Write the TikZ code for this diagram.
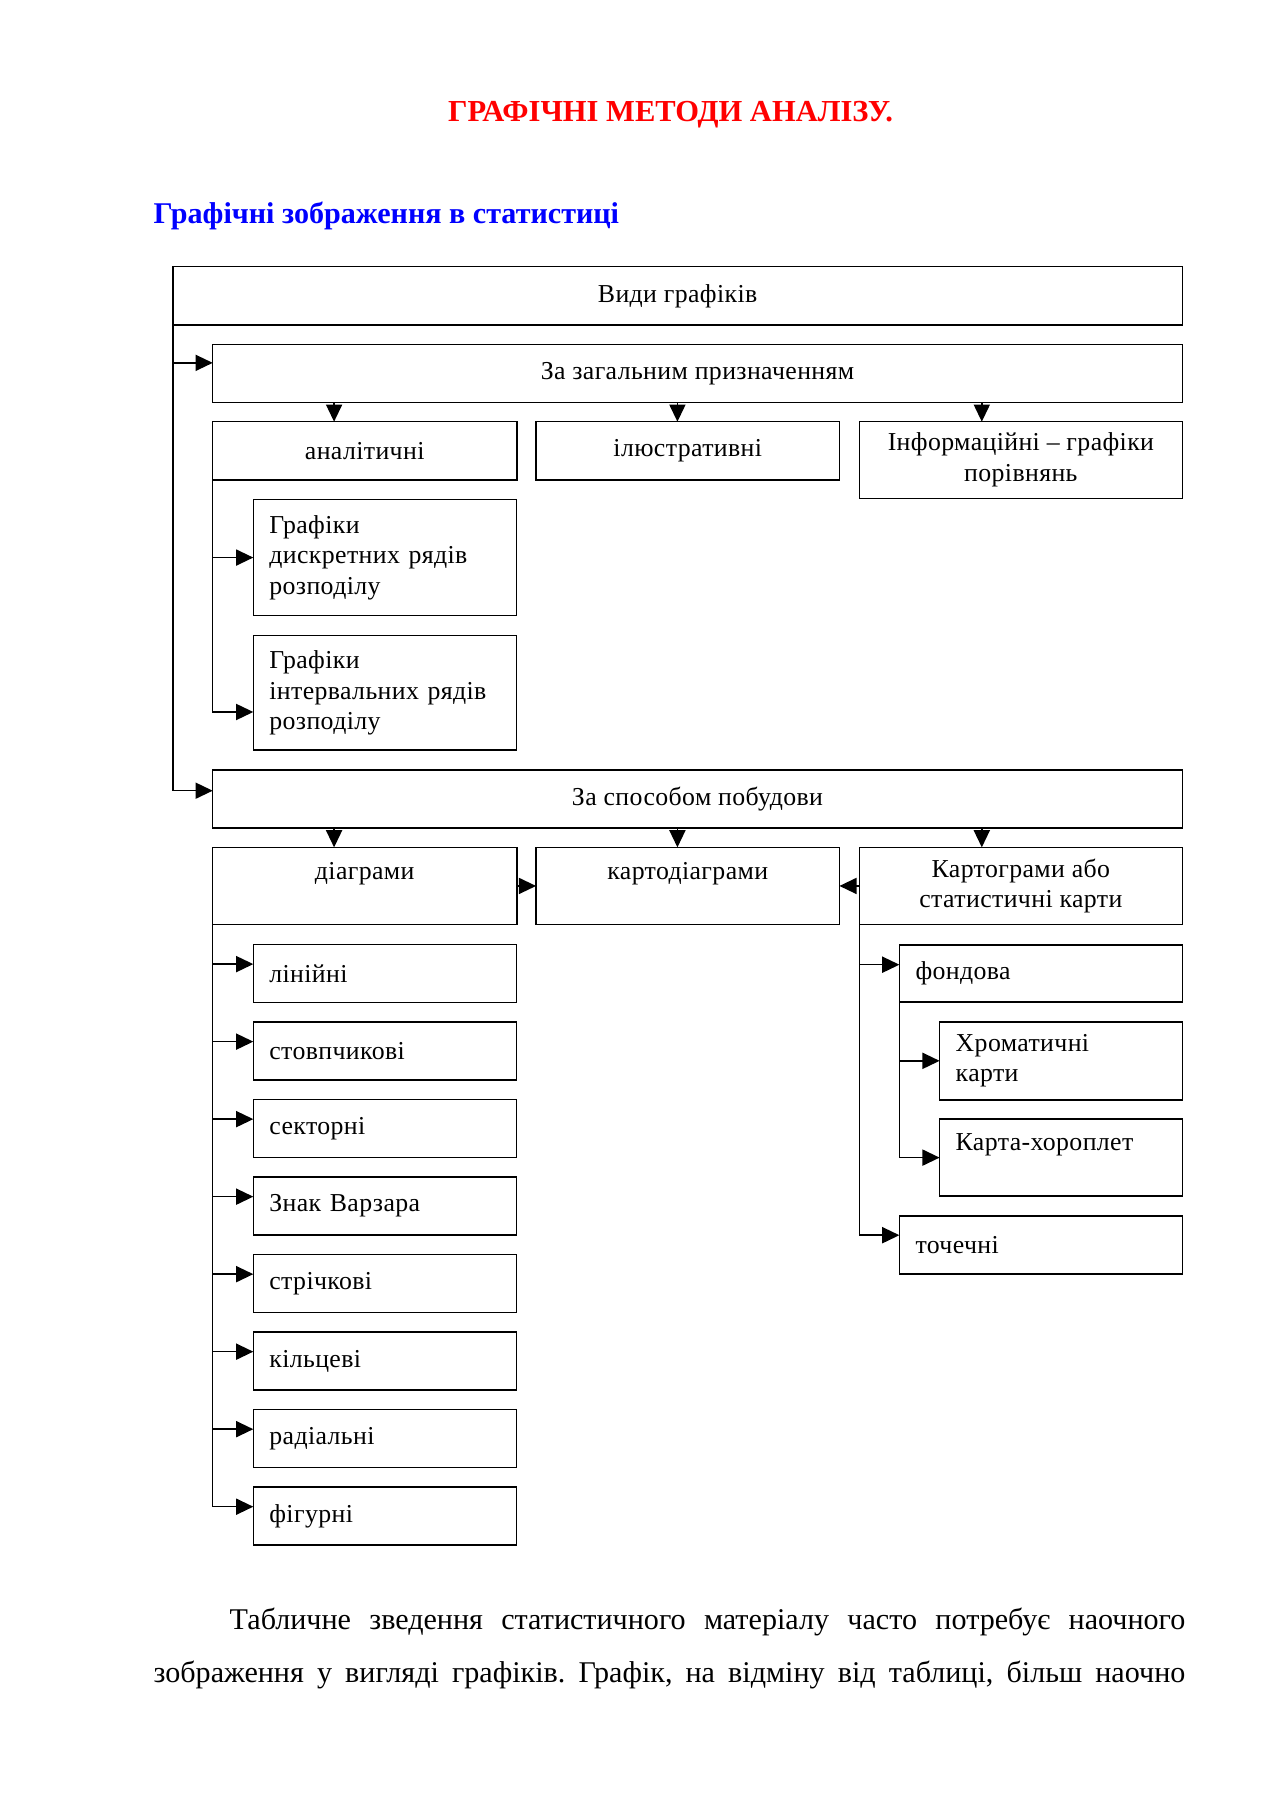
\documentclass[tikz,border=0pt]{standalone}
\usepackage{fontspec}
\setmainfont{Liberation Serif}
\newfontfamily\boxfam[LetterSpace=1.5]{Liberation Serif}
\usepackage{tikz}
\usetikzlibrary{arrows.meta}
\usetikzlibrary{positioning}
\tikzset{>=latex}
\frenchspacing
\newcommand{\upx}{0.5376pt}
\newcommand{\boxfont}{\boxfam\fontsize{12}{14.2}\selectfont}
\tikzstyle{box} = [rectangle, draw, line width=0.7pt, inner sep=0pt, outer sep=0pt, anchor=north west, font=\boxfont, align=center]
\tikzstyle{lbox} = [box, align=left, inner xsep=7.5pt]
\tikzstyle{arr} = [line width=0.7pt, -{Triangle[length=8pt, width=7.5pt]}]

\begin{document}
\begin{tikzpicture}[x=\upx, y=-\upx]
\useasboundingbox (0,0) rectangle (1107.3,1566.6);

% headings
\node [anchor=base, text=red, font=\bfseries\fontsize{14.2}{16}\selectfont] (title) at (580,105) {ГРАФІЧНІ МЕТОДИ АНАЛІЗУ.};
\node [anchor=base west, inner sep=0pt, text=blue, font=\bfseries\fontsize{14}{16}\selectfont] (sub) at (132.5,193.5) {Графічні зображення в статистиці};

% upper part
\node [box, minimum width=469.5pt, minimum height=27.1pt] (vydy) at (149.5,230.7) {Види графіків};
\node [box, minimum width=450.9pt, minimum height=27.1pt] (zag) at (184,297.9) {За загальним призначенням};
\node [box, minimum width=141.4pt, minimum height=27.1pt] (ana) at (184,364.8) {аналітичні};
\node [box, minimum width=141.1pt, minimum height=27.1pt] (il) at (463.7,364.8) {ілюстративні};
\node [box, minimum width=150.3pt, minimum height=35.6pt] (inf) at (743.3,364.8) {Інформаційні – графіки\\порівнянь};
\node [lbox, text width=107.5pt, minimum height=54.1pt] (dys) at (219.1,432) {Графіки\\дискретних рядів\\розподілу};
\node [lbox, text width=107.5pt, minimum height=53.2pt] (int) at (219.1,549.9) {Графіки\\інтервальних рядів\\розподілу};

% lower part
\node [box, minimum width=450.9pt, minimum height=27.1pt] (spos) at (184,666) {За способом побудови};
\node [box, minimum width=141.4pt, minimum height=35.9pt] (diag) at (184,733) {діаграми\\\mbox{}};
\node [box, minimum width=141.1pt, minimum height=35.9pt] (kd) at (463.7,733) {картодіаграми\\\mbox{}};
\node [box, minimum width=150.3pt, minimum height=35.9pt] (kg) at (743.3,733) {Картограми або\\статистичні карти};
\foreach \nd/\txt [count=\i from 0] in {lin/лінійні, stov/стовпчикові, sekt/секторні, znak/Знак Варзара, strich/стрічкові, kilc/кільцеві, rad/радіальні, fig/фігурні}
  \node [lbox, text width=107.3pt, minimum height=27pt] (\nd) at (219.1, 817+67.05*\i) {\txt};
\node [lbox, text width=116.6pt, minimum height=26.5pt] (fond) at (778,817.5) {фондова};
\node [lbox, text width=97.9pt, minimum height=36.2pt] (chrom) at (812.8,884) {Хроматичні\\карти};
\node [lbox, text width=97.9pt, minimum height=35.9pt] (chor) at (812.8,968) {Карта-хороплет\\\mbox{}};
\node [lbox, text width=116.6pt, minimum height=27pt] (toch) at (778,1052) {точечні};

% connectors
\draw [arr] (vydy.south west) |- ([yshift=-16*\upx]zag.north west);
\draw [arr] (vydy.south west) |- ([yshift=-18*\upx]spos.north west);
\foreach \xx/\nd in {289/ana, 586/il, 849.3/inf}
  \draw [arr] (zag.south -| \xx,0) -- (\nd.north -| \xx,0);
\foreach \xx/\nd in {289/diag, 586/kd, 849.3/kg}
  \draw [arr] (spos.south -| \xx,0) -- (\nd.north -| \xx,0);
\draw [arr] (ana.south west) |- (dys.west);
\draw [arr] (ana.south west) |- ([yshift=-66*\upx]int.north west);
\draw [arr] (diag.east) -- (kd.west);
\draw [arr] (kg.west) -- (kd.east);
\foreach \nd in {lin, stov, sekt, znak, strich, kilc, rad, fig}
  \draw [arr] (diag.south west) |- ([yshift=-17*\upx]\nd.north west);
\draw [arr] (kg.south west) |- ([yshift=-17*\upx]fond.north west);
\draw [arr] (kg.south west) |- ([yshift=-16.5*\upx]toch.north west);
\draw [arr] (fond.south west) |- (chrom.west);
\draw [arr] (fond.south west) |- (chor.west);

% text below
\node [anchor=base west, inner sep=0pt, text width=479.8pt, align=justify, font=\fontsize{14}{24.4}\selectfont] (para) at (132.5,1410) {\hspace*{35.4pt}Табличне зведення статистичного матеріалу часто потребує наочного\linebreak зображення у вигляді графіків. Графік, на відміну від таблиці, більш наочно\parfillskip=0pt\par};
\end{tikzpicture}
\end{document}
